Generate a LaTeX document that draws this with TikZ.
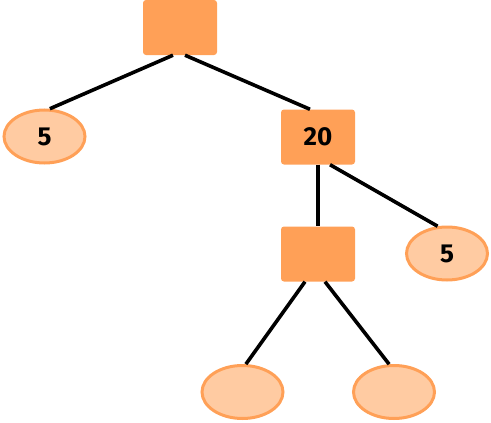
\documentclass[tikz,border=0pt]{standalone}
\usepackage{fontspec}
\setmainfont{Fira Sans}
\usepackage{tikz}
\usetikzlibrary{shapes.geometric, positioning}
\definecolor{boxorange}{HTML}{FFA057}
\definecolor{leaforange}{HTML}{FFCBA2}
\tikzstyle{factorbox} = [rectangle, rounded corners=3pt, minimum width=74pt, minimum height=55pt, inner sep=0pt, text centered, fill=boxorange, font=\fontsize{26}{30}\selectfont\bfseries]
\tikzstyle{leaf} = [ellipse, minimum width=81pt, minimum height=53pt, inner sep=0pt, text centered, draw=boxorange, line width=3pt, fill=leaforange, font=\fontsize{26}{30}\selectfont\bfseries]
\tikzstyle{branch} = [line width=3.6pt, black]
\begin{document}
\begin{tikzpicture}[x=1pt, y=-1pt, node distance=117pt]
\useasboundingbox (0,0) rectangle (491,423);
\node (top) [factorbox] at (180,27.5) {};
\node (fiveleft) [leaf] at (44.5,136.5) {5};
\node (twenty) [factorbox] at (318,137) {20};
\node (middle) [factorbox, below of=twenty] {};
\node (fiveright) [leaf] at (447,253.5) {5};
\node (leafleft) [leaf] at (242.5,392) {};
\node (leafright) [leaf] at (394,392) {};

\draw [branch] ([xshift=-7pt]top.south) -- (fiveleft.79);
\draw [branch] ([xshift=5pt]top.south) -- ([xshift=-8pt]twenty.north);
\draw [branch] (twenty.south) -- (middle.north);
\draw [branch] ([xshift=12pt]twenty.south) -- (fiveright.109);
\draw [branch] ([xshift=-13pt]middle.south) -- (leafleft.83);
\draw [branch] ([xshift=7pt]middle.south) -- (leafright.100);
\end{tikzpicture}
\end{document}
